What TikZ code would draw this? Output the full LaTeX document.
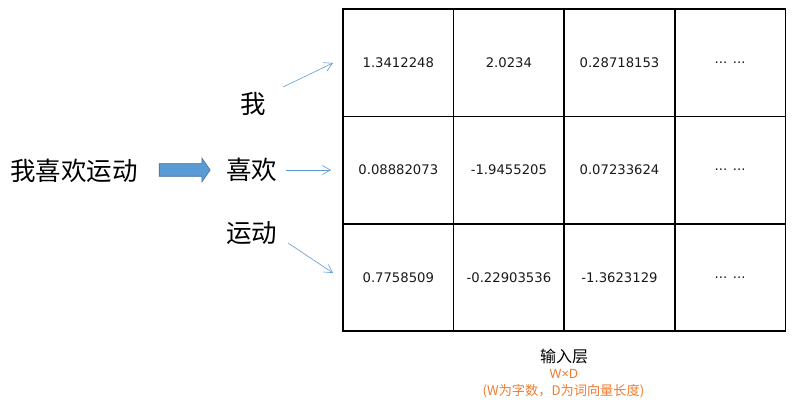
\documentclass[tikz,border=0pt]{standalone}
\usepackage{fontspec}
\setmainfont{DejaVu Sans}
\newfontfamily\cjk{Noto Sans CJK SC}
\newfontfamily\notosans{Noto Sans}
\usetikzlibrary{shapes.arrows,arrows.meta}
\definecolor{blk}{HTML}{5B9BD5}
\definecolor{blkdark}{HTML}{41719C}
\definecolor{orangetxt}{HTML}{ED7D31}
\tikzset{
  cell/.style={draw=black, line width=1.6pt, minimum width=110.6pt, minimum height=107.5pt, inner sep=0pt},
  num/.style={font=\fontsize{13.2}{15}\selectfont, inner sep=0pt, text=black!90},
  word/.style={font=\cjk\fontsize{25.5}{28}\selectfont, inner sep=0pt},
  thin/.style={draw=blk, line width=0.6pt, -{Straight Barb[length=8pt,width=9pt]}},
}
\begin{document}
\begin{tikzpicture}[x=1pt,y=-1pt]
\useasboundingbox (0,0) rectangle (802,409);
% grid
\foreach \r/\y in {1/62.85, 2/170.1, 3/277.25}{
  \foreach \c/\x in {1/398.3, 2/508.9, 3/619.5, 4/730.1}{
    \node[cell] (c\r\c) at (\x,\y) {};
  }
}
\node[num] (n11) at (c11) {1.3412248};
\node[num] (n12) at (c12) {2.0234};
\node[num] (n13) at (c13) {0.28718153};
\node[num] (n14) at (c14) {... ...};
\node[num] (n21) at (c21) {0.08882073};
\node[num] (n22) at (c22) {-1.9455205};
\node[num] (n23) at (c23) {0.07233624};
\node[num] (n24) at (c24) {... ...};
\node[num] (n31) at (c31) {0.7758509};
\node[num] (n32) at (c32) {-0.22903536};
\node[num] (n33) at (c33) {-1.3623129};
\node[num] (n34) at (c34) {... ...};
% left
\node[word] (sent) at (74,171) {我喜欢运动};
\node[single arrow, fill=blk, draw=blkdark, line width=0.6pt, minimum height=51pt, minimum width=24pt, single arrow head extend=3pt, inner sep=3pt, single arrow tip angle=110] (big) at (182.5,170) {};
\node[word] (w1) at (253,104) {我};
\node[word] (w2) at (251.5,170) {喜欢};
\node[word] (w3) at (251.5,233) {运动};
% thin arrows
\coordinate (a1s) at (283,87);
\coordinate (a1e) at (333,63);
\coordinate (a2s) at (286,170);
\coordinate (a2e) at (331,170);
\coordinate (a3s) at (288,243);
\coordinate (a3e) at (333,273);
\draw[thin] (a1s) -- (a1e);
\draw[thin] (a2s) -- (a2e);
\draw[thin] (a3s) -- (a3e);
% bottom labels
\node[font=\cjk\fontsize{16}{18}\selectfont, inner sep=0pt] (lbl) at (564,356) {输入层};
\node[font=\notosans\fontsize{12.8}{14}\selectfont, text=orangetxt, inner sep=0pt] (wd) at (564,374) {W×D};
\node[font=\cjk\fontsize{13.2}{15}\selectfont, text=orangetxt, inner sep=0pt] (note) at (563.5,391) {(W为字数，D为词向量长度)};
\end{tikzpicture}
\end{document}
